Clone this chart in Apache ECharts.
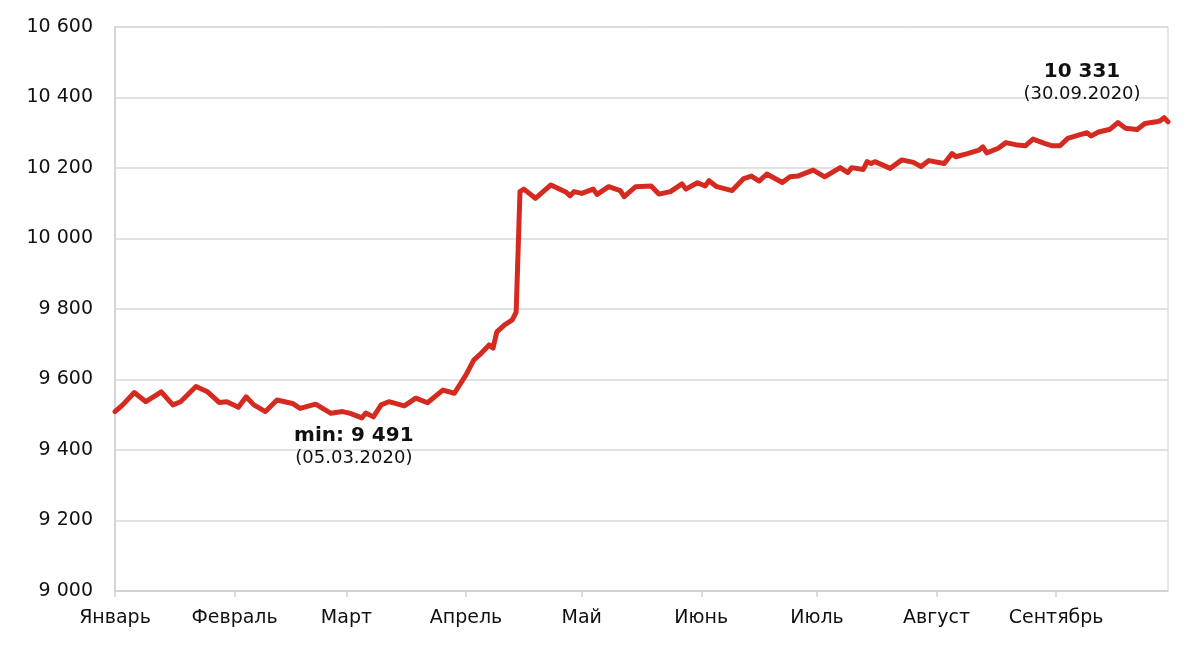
<!DOCTYPE html>
<html>
<head>
<meta charset="utf-8">
<script src="https://cdn.jsdelivr.net/npm/echarts@6/dist/echarts.min.js"></script>
<style>
  html, body { margin: 0; padding: 0; background: #ffffff; }
  #chart { width: 1200px; height: 652px; }
</style>
</head>
<body>
<div id="chart"></div>
<script>
// Month names for the x axis (tick at the first day of each month)
const monthNames = ['Январь','Февраль','Март','Апрель','Май','Июнь','Июль','Август','Сентябрь'];

// Observed dates and values
const obsDates = [
  '2020-01-01','2020-01-03','2020-01-06','2020-01-09','2020-01-13','2020-01-16','2020-01-18','2020-01-22','2020-01-25','2020-01-28','2020-01-30',
  '2020-02-02','2020-02-04','2020-02-06','2020-02-09','2020-02-12','2020-02-16','2020-02-18','2020-02-22','2020-02-26','2020-02-29',
  '2020-03-02','2020-03-05','2020-03-06','2020-03-08','2020-03-10','2020-03-12','2020-03-16','2020-03-19','2020-03-22','2020-03-26','2020-03-29',
  '2020-04-01','2020-04-03','2020-04-05','2020-04-07','2020-04-08','2020-04-09','2020-04-11','2020-04-13','2020-04-14','2020-04-15','2020-04-16','2020-04-19','2020-04-23','2020-04-27','2020-04-28','2020-04-29',
  '2020-05-01','2020-05-04','2020-05-05','2020-05-08','2020-05-11','2020-05-12','2020-05-15','2020-05-19','2020-05-21','2020-05-24','2020-05-27','2020-05-28','2020-05-31',
  '2020-06-02','2020-06-03','2020-06-05','2020-06-09','2020-06-12','2020-06-14','2020-06-16','2020-06-18','2020-06-22','2020-06-24','2020-06-26','2020-06-30',
  '2020-07-03','2020-07-07','2020-07-09','2020-07-10','2020-07-13','2020-07-14','2020-07-15','2020-07-16','2020-07-20','2020-07-23','2020-07-26','2020-07-28','2020-07-30',
  '2020-08-03','2020-08-05','2020-08-06','2020-08-09','2020-08-12','2020-08-13','2020-08-14','2020-08-17','2020-08-19','2020-08-22','2020-08-24','2020-08-26','2020-08-29','2020-08-31',
  '2020-09-02','2020-09-04','2020-09-07','2020-09-09','2020-09-10','2020-09-12','2020-09-15','2020-09-17','2020-09-19','2020-09-22','2020-09-24','2020-09-27','2020-09-28','2020-09-29','2020-09-30'
];
const obsValues = [
  9509, 9528, 9563, 9537, 9565, 9528, 9537, 9580, 9565, 9535, 9537,
  9521, 9551, 9528, 9509, 9542, 9532, 9518, 9530, 9504, 9509,
  9504, 9491, 9505, 9494, 9528, 9537, 9525, 9547, 9534, 9570, 9561,
  9613, 9655, 9675, 9698, 9689, 9735, 9755, 9769, 9791, 10133, 10140, 10114, 10152, 10131, 10121, 10133,
  10128, 10140, 10125, 10147, 10136, 10119, 10147, 10149, 10126, 10133, 10155, 10140, 10158,
  10149, 10164, 10147, 10136, 10170, 10177, 10163, 10183, 10159, 10175, 10177, 10194,
  10175, 10201, 10187, 10201, 10196, 10218, 10213, 10218, 10199, 10223, 10216, 10204, 10221,
  10213, 10241, 10232, 10241, 10251, 10260, 10243, 10256, 10272, 10265, 10263, 10282, 10270, 10263,
  10263, 10284, 10294, 10300, 10291, 10302, 10310, 10329, 10313, 10309, 10326, 10331, 10334, 10343, 10331
];

// Annotations
const minPoint = { date: '2020-03-05', value: 9491, title: 'min: 9 491', sub: '(05.03.2020)' };
const lastPoint = { date: '2020-09-30', value: 10331, title: '10 331', sub: '(30.09.2020)' };

// Y axis range
const yMin = 9000, yMax = 10600, yStep = 200;

// Calendar days (category axis) Jan 1 .. Sep 30, 2020
const days = [];
(function () {
  const d = new Date(Date.UTC(2020, 0, 1));
  const end = Date.UTC(2020, 8, 30);
  while (d.getTime() <= end) {
    days.push(d.toISOString().slice(0, 10));
    d.setUTCDate(d.getUTCDate() + 1);
  }
})();

const lookup = {};
obsDates.forEach((dt, i) => { lookup[dt] = obsValues[i]; });
const seriesData = days.map(dt => (dt in lookup ? lookup[dt] : null));

const fmtNum = v => String(v).replace(/\B(?=(\d{3})+(?!\d))/g, ' ');
const isMonthStart = (idx, val) => val.slice(8, 10) === '01';

const FONT = 'DejaVu Sans, Liberation Sans, Arial, sans-serif';
const chart = echarts.init(document.getElementById('chart'), null, { renderer: 'canvas' });

const richStyle = {
  b: { fontSize: 20, fontWeight: 'bold', color: '#111111', fontFamily: FONT, lineHeight: 23, align: 'center' },
  n: { fontSize: 18, color: '#111111', fontFamily: FONT, lineHeight: 22, align: 'center' }
};

chart.setOption({
  animation: false,
  backgroundColor: '#ffffff',
  grid: {
    left: 115, right: 32, top: 27, bottom: 61,
    show: true, borderColor: '#d0d0d0', borderWidth: 1, backgroundColor: 'transparent'
  },
  xAxis: {
    type: 'category',
    data: days,
    boundaryGap: false,
    axisLine: { show: true, lineStyle: { color: '#d0d0d0', width: 1.5 } },
    axisTick: { show: true, interval: isMonthStart, length: 6, lineStyle: { color: '#d0d0d0', width: 1.5 } },
    axisLabel: {
      interval: isMonthStart,
      formatter: v => monthNames[parseInt(v.slice(5, 7), 10) - 1],
      color: '#111111', fontSize: 19, fontFamily: FONT, margin: 18
    },
    splitLine: { show: false }
  },
  yAxis: {
    type: 'value',
    min: yMin, max: yMax, interval: yStep,
    axisLine: { show: true, lineStyle: { color: '#d0d0d0', width: 1.5 } },
    axisTick: { show: false },
    axisLabel: { formatter: fmtNum, color: '#111111', fontSize: 19, fontFamily: FONT, margin: 22 },
    splitLine: { show: true, lineStyle: { color: '#d9d9d9', width: 1.5 } }
  },
  series: [{
    type: 'line',
    data: seriesData,
    connectNulls: true,
    showSymbol: false,
    symbol: 'none',
    lineStyle: { color: '#d42a20', width: 5, join: 'round', cap: 'round' },
    itemStyle: { color: '#d42a20' },
    markPoint: {
      symbol: 'circle', symbolSize: 0,
      data: [
        {
          coord: [minPoint.date, minPoint.value],
          label: {
            show: true, position: 'inside', offset: [-8, 29],
            formatter: '{b|' + minPoint.title + '}\n{n|' + minPoint.sub + '}',
            rich: richStyle
          }
        },
        {
          coord: [lastPoint.date, lastPoint.value],
          label: {
            show: true, position: 'inside', offset: [-86, -39],
            formatter: '{b|' + lastPoint.title + '}\n{n|' + lastPoint.sub + '}',
            rich: richStyle
          }
        }
      ]
    }
  }]
});
</script>
</body>
</html>
